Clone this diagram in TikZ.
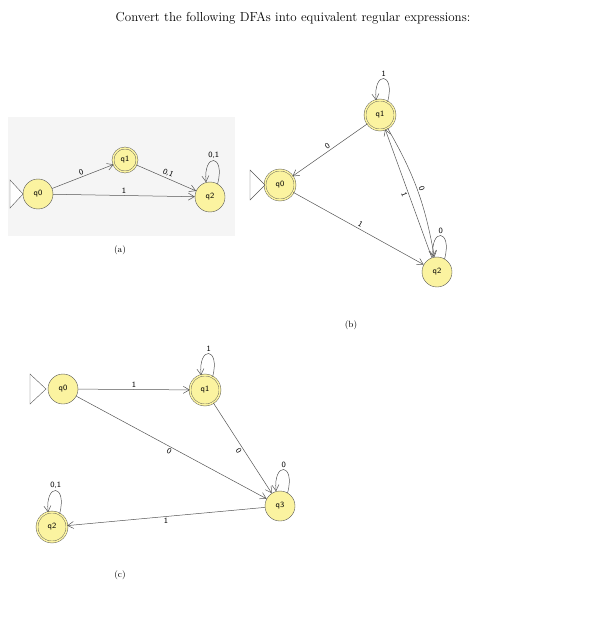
\documentclass[tikz,border=0pt]{standalone}
\usetikzlibrary{arrows.meta}
\definecolor{nodey}{HTML}{FBF3A0}
\definecolor{edge}{HTML}{555555}
\begin{document}
\begin{tikzpicture}[x=1pt,y=-1pt,
 st/.style={circle,draw=edge,fill=nodey,minimum size=30pt,inner sep=0pt,font=\sffamily\footnotesize},
 acc/.style={st,double=nodey,double distance=1.5pt},
 tr/.style={draw=edge,-{Straight Barb[length=6pt,width=7pt]},line width=0.5pt},
 lab/.style={font=\sffamily\footnotesize,inner sep=1.5pt},
 loopa/.style={tr,to path={.. controls +(8,-30) and +(-3,-30) .. (\tikztotarget) \tikztonodes}},
 start/.style={draw=edge,fill=white}]
\useasboundingbox (0,0) rectangle (603,620);
\node[font=\fontsize{13}{15}\selectfont] (title) at (293,18) {Convert the following DFAs into equivalent regular expressions:};
% (a)
\fill[black!4] (8,117) rectangle (235,236);
\node[st] (a0) at (38,194) {q0};
\node[acc,minimum size=24pt] (a1) at (125,160) {q1};
\node[st] (a2) at (210,197) {q2};
\draw[start] (10,180) -- (23,194) -- (10,208) -- cycle;
\draw[tr] (a0) -- node[lab,above,sloped]{0} (a1);
\draw[tr] (a0) -- node[lab,above]{1} (a2);
\draw[tr] (a1) -- node[lab,above,sloped]{0,1} (a2);
\draw[loopa] (a2.60) to node[lab,above]{0,1} (a2.105);
\node[font=\small] (la) at (120,250) {(a)};
% (b)
\node[acc] (b0) at (280,185) {q0};
\node[acc] (b1) at (380,115) {q1};
\node[st] (b2) at (437,272) {q2};
\draw[start] (250,170) -- (265,185) -- (250,200) -- cycle;
\draw[tr] (b1) -- node[lab,above,sloped]{0} (b0);
\draw[tr] (b0) -- node[lab,above,sloped]{1} (b2);
\draw[tr] (b2) -- node[lab,below,sloped]{1} (b1);
\draw[tr] (b1) to[bend left=10] node[lab,above,sloped]{0} (b2);
\draw[loopa] (b1.60) to node[lab,above]{1} (b1.105);
\draw[loopa] (b2.60) to node[lab,above]{0} (b2.105);
\node[font=\small] (lb) at (351,325) {(b)};
% (c)
\node[st] (c0) at (63,389) {q0};
\node[acc] (c1) at (205,390) {q1};
\node[st] (c3) at (280,506) {q3};
\node[acc] (c2) at (52,527) {q2};
\draw[start] (30,374) -- (46,389) -- (30,404) -- cycle;
\draw[tr] (c0) -- node[lab,above]{1} (c1);
\draw[tr] (c0) -- node[lab,below,sloped]{0} (c3);
\draw[tr] (c1) -- node[lab,below,sloped]{0} (c3);
\draw[tr] (c3) -- node[lab,below]{1} (c2);
\draw[loopa] (c1.60) to node[lab,above]{1} (c1.105);
\draw[loopa] (c3.60) to node[lab,above]{0} (c3.105);
\draw[loopa] (c2.60) to node[lab,above]{0,1} (c2.105);
\node[font=\small] (lc) at (120,575) {(c)};
\end{tikzpicture}
\end{document}
